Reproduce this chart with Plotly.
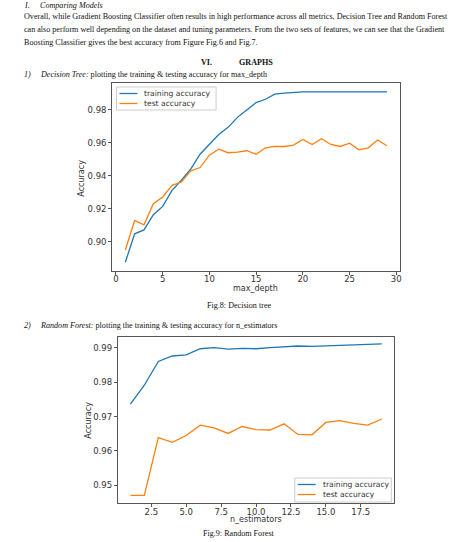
import plotly.graph_objects as go

# Fig.8 decision tree: accuracy vs max_depth
max_depth = list(range(1, 30))
dt_train = [0.8874, 0.9047, 0.9071, 0.9163, 0.9214, 0.9311, 0.9373, 0.9440, 0.9531, 0.9594,
            0.9651, 0.9694, 0.9755, 0.9800, 0.9845, 0.9865, 0.9896, 0.9902, 0.9908, 0.9910,
            0.9910, 0.9910, 0.9910, 0.9910, 0.9910, 0.9910, 0.9910, 0.9910, 0.9910]
dt_test = [0.8949, 0.9128, 0.9102, 0.9230, 0.9271, 0.9342, 0.9362, 0.9430, 0.9450, 0.9525,
           0.9562, 0.9540, 0.9544, 0.9552, 0.9531, 0.9570, 0.9578, 0.9578, 0.9586, 0.9621,
           0.9590, 0.9625, 0.9590, 0.9578, 0.9598, 0.9558, 0.9570, 0.9617, 0.9582]

# Fig.9 random forest: accuracy vs n_estimators
n_estimators = list(range(1, 20))
rf_train = [0.9736, 0.9791, 0.9860, 0.9876, 0.9879, 0.9897, 0.9900, 0.9896, 0.9898, 0.9897,
            0.9900, 0.9902, 0.9905, 0.9904, 0.9905, 0.9908, 0.9908, 0.9908, 0.9911]
rf_test = [0.9471, 0.9471, 0.9639, 0.9625, 0.9645, 0.9675, 0.9667, 0.9651, 0.9671, 0.9662,
           0.9661, 0.9679, 0.9648, 0.9647, 0.9683, 0.9688, 0.9680, 0.9675, 0.9693]

dt_xticks = [0, 5, 10, 15, 20, 25, 30]
dt_yticks = [0.90, 0.92, 0.94, 0.96, 0.98]
rf_xticks = [2.5, 5.0, 7.5, 10.0, 12.5, 15.0, 17.5]
rf_yticks = [0.95, 0.96, 0.97, 0.98, 0.99]
series_names = ['training accuracy', 'test accuracy']

W, H = 474, 542
BLUE = '#1f77b4'
ORANGE = '#ff7f0e'
MPL = 'DejaVu Sans'
SERIF = 'Liberation Serif'


def px(x):
    return x / W


def py(y):
    return 1 - y / H


fig = go.Figure()

for xs, ys, c, n, ax in [(max_depth, dt_train, BLUE, series_names[0], '1'),
                         (max_depth, dt_test, ORANGE, series_names[1], '1'),
                         (n_estimators, rf_train, BLUE, series_names[0], '2'),
                         (n_estimators, rf_test, ORANGE, series_names[1], '2')]:
    fig.add_trace(go.Scatter(x=xs, y=ys, mode='lines', name=n, showlegend=False,
                             line=dict(color=c, width=1.3),
                             xaxis='x' if ax == '1' else 'x2',
                             yaxis='y' if ax == '1' else 'y2'))

axis_style = dict(showline=True, mirror=True, linecolor='#555', linewidth=1,
                  ticks='outside', ticklen=3, tickwidth=0.8, tickcolor='#555',
                  showgrid=False, zeroline=False,
                  tickfont=dict(family=MPL, size=8.5, color='#333'))

fig.update_layout(
    width=W, height=H,
    margin=dict(l=0, r=0, t=0, b=0),
    paper_bgcolor='white', plot_bgcolor='white',
    showlegend=False,
    xaxis=dict(domain=[px(112.7), px(401.7)], range=[-0.4, 30.4], tickvals=dt_xticks,
               anchor='y', ticklabelstandoff=-3, **axis_style),
    yaxis=dict(domain=[py(270.7), py(83.3)], range=[0.8823, 0.9962], tickvals=dt_yticks,
               tickformat='.2f', anchor='x', **axis_style),
    xaxis2=dict(domain=[px(118.3), px(396)], range=[0.1, 19.9], tickvals=rf_xticks,
                tickformat='.1f', anchor='y2', ticklabelstandoff=-3, **axis_style),
    yaxis2=dict(domain=[py(503.3), py(336.7)], range=[0.9448, 0.9932], tickvals=rf_yticks,
                tickformat='.2f', anchor='x2', **axis_style),
)


def ann(x, y, t, a='left', font=None, angle=0):
    fig.add_annotation(x=px(x), y=py(y), xref='paper', yref='paper', text=t, showarrow=False,
                       xanchor=a, yanchor='middle', font=font, textangle=angle)


# document text around the figures
doc = dict(family=SERIF, size=8.1, color='#111')
ann(22, 6, '<i>I.</i>', font=doc)
ann(38, 6, '<i>Comparing Models</i>', font=doc)
ann(22, 16.5, 'Overall, while Gradient Boosting Classifier often results in high performance across all metrics, Decision Tree and Random Forest', font=doc)
ann(22, 29.5, 'can also perform well depending on the dataset and tuning parameters. From the two sets of features, we can see that the Gradient', font=doc)
ann(22, 42.5, 'Boosting Classifier gives the best accuracy from Figure Fig.6 and Fig.7.', font=doc)
ann(200, 62, '<b>VI.</b>', font=doc)
ann(238, 62, '<b>GRAPHS</b>', font=doc)
ann(22, 74, '<i>1)</i>', font=doc)
ann(38, 74, '<i>Decision Tree:</i> plotting the training &amp; testing accuracy for max_depth', font=doc)
ann(240, 305, 'Fig.8: Decision tree', 'center', doc)
ann(22, 325, '<i>2)</i>', font=doc)
ann(38, 325, '<i>Random Forest:</i> plotting the training &amp; testing accuracy for n_estimators', font=doc)
ann(240, 533, 'Fig.9: Random Forest', 'center', doc)

# axis labels
lab = dict(family=MPL, size=8, color='#333')
ann(257, 288.5, 'max_depth', 'center', lab)
ann(81, 178, 'Accuracy', 'center', lab, -90)
ann(257, 519.5, 'n_estimators', 'center', lab)
ann(88, 420, 'Accuracy', 'center', lab, -90)


# compact matplotlib-style legends
def legend_box(x0, y0, x1, y1, rows):
    fig.add_shape(type='rect', xref='paper', yref='paper', x0=px(x0), x1=px(x1),
                  y0=py(y1), y1=py(y0), line=dict(color='#ccc', width=1),
                  fillcolor='rgba(255,255,255,0.8)', layer='above')
    for (yy, color), name in zip(rows, series_names):
        fig.add_shape(type='line', xref='paper', yref='paper', x0=px(x0 + 3), x1=px(x0 + 21),
                      y0=py(yy), y1=py(yy), line=dict(color=color, width=1.3), layer='above')
        ann(x0 + 26, yy, name, font=dict(family=MPL, size=7.6, color='#333'))


legend_box(117, 87, 217, 110, [(93.5, BLUE), (103.5, ORANGE)])
legend_box(296, 478, 393, 502, [(484.5, BLUE), (494.5, ORANGE)])

# the page body has a default 8px margin; drop it so the figure fills the window
fig.write_html('out.html', config={'displayModeBar': False},
               post_script="document.body.style.margin='0px';")
